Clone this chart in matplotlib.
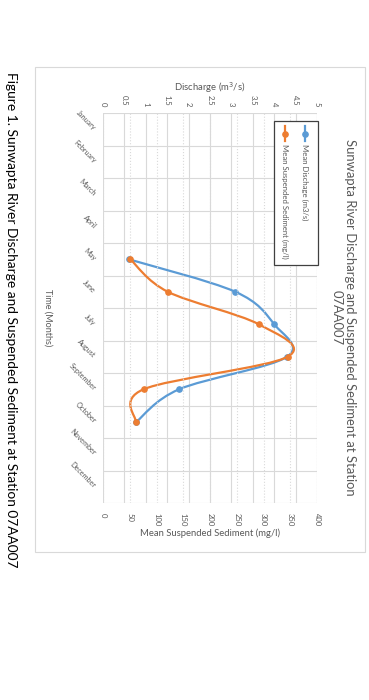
import numpy as np
import matplotlib
matplotlib.use('Agg')
import matplotlib.pyplot as plt
from matplotlib.path import Path
from matplotlib.patches import PathPatch, Rectangle
from matplotlib.lines import Line2D

months = ['January', 'February', 'March', 'April', 'May', 'June', 'July',
          'August', 'September', 'October', 'November', 'December']
discharge = [None, None, None, None, 0.6, 3.09, 4.0, 4.3, 1.78, 0.78, None, None]
sediment = [None, None, None, None, 51, 121, 291, 345, 76, 61, None, None]
discharge_ticks = [0, 0.5, 1, 1.5, 2, 2.5, 3, 3.5, 4, 4.5, 5]
discharge_labels = ['0', '0.5', '1', '1.5', '2', '2.5', '3', '3.5', '4', '4.5', '5']
sediment_ticks = [0, 50, 100, 150, 200, 250, 300, 350, 400]

BLUE = '#5B9BD5'
ORANGE = '#ED7D31'
GRAY = '#595959'
GRID = '#D9D9D9'

plt.rcParams['font.family'] = ['Lato', 'DejaVu Sans']

W, H = 369, 700
fig = plt.figure(figsize=(W/100, H/100), dpi=100)


def fx(x):
    return x / W


def fy(y):
    return 1 - y / H


def smooth_path(xs, ys):
    # excel style smoothed line, cubic bezier through the points
    pts = np.column_stack([xs, ys])
    n = len(pts)
    verts = [pts[0]]
    codes = [Path.MOVETO]
    for i in range(n - 1):
        p0 = pts[max(i - 1, 0)]
        p1 = pts[i]
        p2 = pts[i + 1]
        p3 = pts[min(i + 2, n - 1)]
        verts += [p1 + (p2 - p0) / 6., p2 - (p3 - p1) / 6., p2]
        codes += [Path.CURVE4] * 3
    return Path(verts, codes)


# outer chart border
fig.add_artist(Rectangle((fx(35), fy(552)), fx(330), 485 / H, transform=fig.transFigure,
                         fill=False, edgecolor=GRID, lw=0.8))

ax = fig.add_axes([fx(103), fy(503), fx(214), 390 / H])
ax2 = ax.twiny()

centers = np.arange(len(months)) + 0.5
ax.set_ylim(len(months), 0)
ax.set_xlim(0, 5)
ax2.set_xlim(0, 400)

ax.set_yticks(centers)
ax.set_yticklabels(months)
ax.set_yticks(np.arange(len(months) + 1), minor=True)
ax.tick_params(axis='y', which='both', length=0, pad=6, labelsize=5.2, labelcolor=GRAY)
plt.setp(ax.get_yticklabels(), rotation=-45, rotation_mode='anchor', ha='right', va='center')

ax.xaxis.tick_top()
ax.xaxis.set_label_position('top')
ax.set_xticks(discharge_ticks)
ax.set_xticklabels(discharge_labels, rotation=-90)
ax.tick_params(axis='x', length=0, pad=5, labelsize=5.5, labelcolor=GRAY)
ax.set_xlabel('Discharge (m$^3$/s)', fontsize=6.8, color=GRAY, labelpad=3)

ax2.xaxis.tick_bottom()
ax2.xaxis.set_label_position('bottom')
ax2.set_xticks(sediment_ticks)
ax2.set_xticklabels([str(v) for v in sediment_ticks], rotation=-90)
ax2.tick_params(axis='x', length=0, pad=7, labelsize=5.5, labelcolor=GRAY)
ax2.set_xlabel('Mean Suspended Sediment (mg/l)', fontsize=6.8, color=GRAY, labelpad=2)

for a in (ax, ax2):
    for s in a.spines.values():
        s.set_visible(False)

ax.grid(axis='x', which='major', color=GRID, lw=0.8)
ax.grid(axis='y', which='minor', color=GRID, lw=0.8)
ax.grid(axis='y', which='major', visible=False)
ax2.grid(axis='x', color=GRID, lw=0.8, ls=':')
ax.set_axisbelow(True)

# series
idx = [i for i, v in enumerate(discharge) if v is not None]
dx = np.array([discharge[i] for i in idx], float)
dy = centers[idx]
ax.add_patch(PathPatch(smooth_path(dx, dy), fill=False, edgecolor=BLUE, lw=1.6,
                       capstyle='round', joinstyle='round'))
ax.plot(dx, dy, 'o', color=BLUE, ms=3.8)

idx = [i for i, v in enumerate(sediment) if v is not None]
sx = np.array([sediment[i] for i in idx], float)
sy = centers[idx]
ax2.set_ylim(ax.get_ylim())
ax2.add_patch(PathPatch(smooth_path(sx, sy), fill=False, edgecolor=ORANGE, lw=1.6,
                        capstyle='round', joinstyle='round'))
ax2.plot(sx, sy, 'o', color=ORANGE, ms=3.8)

# legend drawn by hand since the whole chart is turned on its side
fig.add_artist(Rectangle((fx(274), fy(265)), fx(44), 144 / H, transform=fig.transFigure,
                         facecolor='white', edgecolor='#404040', lw=0.9, zorder=5))
for xp, col, lab in [(305, BLUE, 'Mean Dischage (m3/s)'),
                     (285, ORANGE, 'Mean Suspended Sediment (mg/l)')]:
    fig.add_artist(Line2D([fx(xp), fx(xp)], [fy(126), fy(141)], transform=fig.transFigure,
                          color=col, lw=1.6, zorder=6))
    fig.add_artist(Line2D([fx(xp)], [fy(133.5)], transform=fig.transFigure, marker='o',
                          ms=3.8, color=col, zorder=6))
    fig.text(fx(xp), fy(144), lab, rotation=-90, ha='center', va='top', fontsize=5.6,
             color=GRAY, zorder=6)

fig.text(fx(343), fy(317), 'Sunwapta River Discharge and Suspended Sediment at Station\n07AA007',
         rotation=-90, ha='center', va='center', multialignment='center', fontsize=9.4,
         color=GRAY, linespacing=1.15)
fig.text(fx(48), fy(318), 'Time (Months)', rotation=-90, ha='center', va='center',
         fontsize=6.5, color=GRAY)
fig.text(fx(11), fy(320), 'Figure 1. Sunwapta River Discharge and Suspended Sediment at Station 07AA007',
         rotation=-90, ha='center', va='center', fontsize=9.9, color='black')

fig.savefig('out.png', dpi=100)
